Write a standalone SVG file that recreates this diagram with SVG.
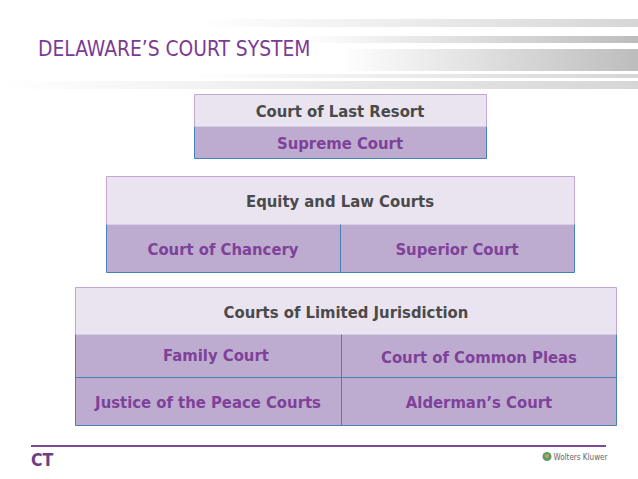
<svg xmlns="http://www.w3.org/2000/svg" width="638" height="479" viewBox="0 0 638 479">
<style>
text{font-family:"DejaVu Sans Condensed","DejaVu Sans",sans-serif;text-anchor:middle;font-size:16.500px}
.h{fill:#4a4a4a;font-weight:bold}
.c{fill:#7f4199;font-weight:bold}
.hb{fill:#eae4f0}
.cb{fill:#bdacd0}
.o{fill:none;stroke:#c3a6d2;stroke-width:1}
.b{fill:none;stroke:#4580b8;stroke-width:1}
</style>
<defs>
<linearGradient id="g1" x1="0" x2="1" y1="0" y2="0"><stop offset="0" stop-color="#fff"/><stop offset="1" stop-color="#d6d6d6"/></linearGradient>
<linearGradient id="g2" x1="0" x2="1" y1="0" y2="0"><stop offset="0" stop-color="#fff"/><stop offset="1" stop-color="#bdbdbd"/></linearGradient>
</defs>
<rect width="638" height="479" fill="#fff"/>
<g id="stripes">
<rect x="200" y="19" width="438" height="8" fill="url(#g1)"/>
<rect x="300" y="36" width="338" height="7" fill="url(#g2)"/>
<rect x="340" y="49" width="298" height="22" fill="url(#g2)"/>
<rect x="190" y="74" width="448" height="4" fill="url(#g1)"/>
<rect x="0" y="81" width="638" height="8" fill="url(#g1)"/>
</g>
<text id="title" x="38" y="55.500" style="text-anchor:start;font-size:20.800px;fill:#7b3b95">DELAWARE’S COURT SYSTEM</text>
<g id="tier1">
<rect class="hb" x="194.500" y="94.500" width="292" height="32"/>
<rect class="cb" x="194.500" y="126.500" width="292" height="32"/>
<path class="o" d="M194.500 126.500V94.500H486.500V126.500"/>
<path class="b" d="M194.500 126.500V158.500H486.500V126.500"/>
<text class="h" x="340" y="117">Court of Last Resort</text>
<text class="c" x="340" y="149">Supreme Court</text>
</g>
<g id="tier2">
<rect class="hb" x="106.500" y="176.500" width="468" height="48"/>
<rect class="cb" x="106.500" y="224.500" width="468" height="48"/>
<path class="o" d="M106.500 224.500V176.500H574.500V224.500"/>
<path class="b" d="M106.500 224.500V272.500H574.500V224.500M340.500 224.500V272.500"/>
<text class="h" x="340" y="207">Equity and Law Courts</text>
<text class="c" x="223" y="255">Court of Chancery</text>
<text class="c" x="457" y="255">Superior Court</text>
</g>
<g id="tier3">
<rect class="hb" x="75.500" y="287.500" width="541" height="47"/>
<rect class="cb" x="75.500" y="334.500" width="541" height="91"/>
<path class="o" d="M75.500 334.500V287.500H616.500V334.500"/>
<path class="b" d="M75.500 334.500V425.500H616.500V334.500M341.500 334.500V425.500M75.500 377.500H616.500"/>
<text class="h" x="346" y="318">Courts of Limited Jurisdiction</text>
<text class="c" x="216" y="361">Family Court</text>
<text class="c" x="479" y="363">Court of Common Pleas</text>
<text class="c" x="208" y="408">Justice of the Peace Courts</text>
<text class="c" x="479" y="408">Alderman’s Court</text>
</g>
<g id="footer">
<rect x="31" y="445" width="575" height="2" fill="#7b4a94"/>
<text x="31" y="466" style="text-anchor:start;font-size:17.500px;font-weight:bold;fill:#6b3f87">CT</text>
<circle cx="547" cy="456.500" r="4.500" fill="#5f9a6a"/>
<circle cx="547" cy="456" r="2" fill="#c9a24a"/>
<text x="580.500" y="460" style="font-size:8px;fill:#666">Wolters Kluwer</text>
</g>
</svg>
